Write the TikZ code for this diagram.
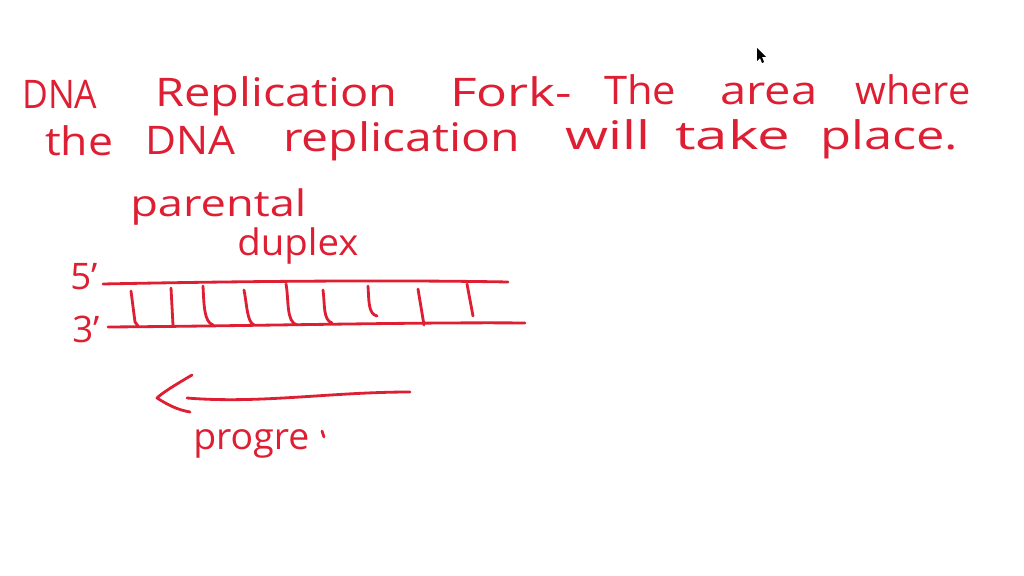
\documentclass[tikz,border=0pt]{standalone}
\usepackage{fontspec}
\setmainfont{Open Sans}
\usepackage{graphicx}
\definecolor{ink}{RGB}{222,30,50}
\newcommand{\fitw}[2]{\resizebox{#1cm}{\height}{#2}}
\begin{document}
\begin{tikzpicture}[x=0.025cm,y=-0.025cm,
  pen/.style={draw=ink,line width=2pt,line cap=round,line join=round},
  word/.style={text=ink,anchor=base west,inner sep=0pt,font=\fontsize{28}{32}\selectfont},
  small/.style={text=ink,anchor=base west,inner sep=0pt,font=\fontsize{26}{30}\selectfont}]
\useasboundingbox[fill=white] (0,0) rectangle (1024,576);
% title line 1
\node[word] (w1) at (22,109) {\fitw{1.875}{DNA}};
\node[word] (w2) at (155,107) {\fitw{6.05}{Replication}};
\node[word] (w3) at (450,107) {\fitw{3.05}{Fork-}};
\node[word] (w4) at (604,105) {\fitw{1.8}{The}};
\node[word] (w5) at (720,105) {\fitw{2.425}{area}};
\node[word] (w6) at (855,105) {\fitw{2.875}{where}};
% title line 2
\node[word] (v1) at (45,156) {\fitw{1.7}{the}};
\node[word] (v2) at (145,155) {\fitw{2.25}{DNA}};
\node[word] (v3) at (283,152) {\fitw{5.925}{replication}};
\node[word] (v4) at (565,150) {\fitw{2.125}{will}};
\node[word] (v5) at (675,150) {\fitw{2.875}{take}};
\node[word] (v6) at (820,150) {\fitw{3.45}{place.}};
% labels
\node[small] (par) at (130,217) {\fitw{4.4}{parental}};
\node[small] (dup) at (237,256) {\fitw{3.025}{duplex}};
\node[small] (five) at (70,290) {5’};
\node[small] (three) at (72,342) {3’};
\node[small] (prog) at (193,449) {\fitw{2.9}{progre}};
\draw[pen] (322,431) -- (324,437);
% strands
\coordinate (t1) at (103,284); \coordinate (t2) at (508,282);
\coordinate (b1) at (108,327); \coordinate (b2) at (525,323);
\draw[pen] (t1) .. controls (250,281) and (400,280) .. (t2);
\draw[pen] (b1) .. controls (250,326) and (420,322) .. (b2);
% rungs
\draw[pen] (131,291) -- (135,322) -- (138,326);
\draw[pen] (171,288) -- (173,325);
\draw[pen] (203,286) .. controls (204,305) and (204,322) .. (213,325);
\draw[pen] (244,290) .. controls (247,305) and (247,322) .. (254,325);
\draw[pen] (286,284) .. controls (289,300) and (286,322) .. (297,325);
\draw[pen] (323,290) .. controls (325,305) and (323,320) .. (332,323);
\draw[pen] (368,286) .. controls (369,300) and (368,314) .. (377,316);
\draw[pen] (418,289) -- (424,325);
\draw[pen] (467,284) -- (473,316);
% progress arrow
\coordinate (as) at (410,392); \coordinate (ae) at (187,398);
\draw[pen] (as) .. controls (330,392) and (260,404) .. (ae);
\coordinate (tip) at (157,398);
\draw[pen] (192,375) .. controls (175,385) and (162,393) .. (tip) .. controls (168,405) and (178,410) .. (190,412);
% mouse cursor
\fill[black] (757,48) -- (757,61) -- (760,58) -- (762,63) -- (764,62) -- (762,57) -- (766,57) -- cycle;
\end{tikzpicture}
\end{document}
